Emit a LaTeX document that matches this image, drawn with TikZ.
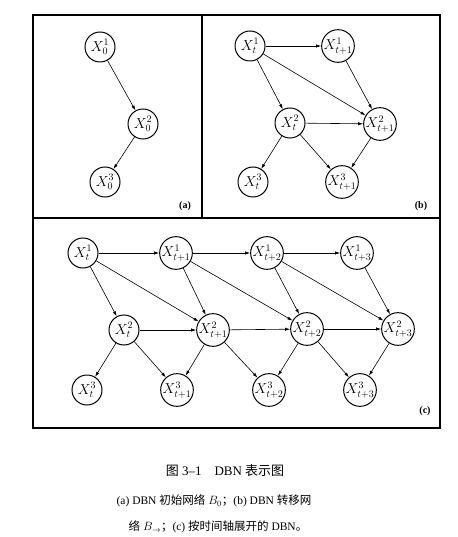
\documentclass[tikz,border=0pt]{standalone}
\usepackage{fontspec}
\setmainfont{Liberation Serif}
\newfontfamily\cjk{Noto Sans CJK SC}
\usetikzlibrary{arrows.meta}

\begin{document}
\begin{tikzpicture}[
    % one unit is one pixel of the reference, y grows downwards
    x=1pt,
    y=-1pt
]
    % --- Style Definitions ---
    \tikzstyle{var} = [draw, circle, line width=1pt, minimum size=30pt, inner sep=0pt, font=\fontsize{14}{16}\selectfont]
    \tikzstyle{edge} = [draw, line width=0.6pt, -{Latex[length=5pt,width=3.2pt]}]
    \tikzstyle{frame} = [draw, line width=1.1pt]
    \tikzstyle{tag} = [font=\bfseries\fontsize{10}{12}\selectfont]

    \useasboundingbox (0,0) rectangle (457,537);

    % --- Frames ---
    \draw[frame] (33,15) rectangle (440,428);
    \draw[frame] (33,218) -- (440,218);
    \draw[frame] (202,15) -- (202,218);

    % --- (a) initial network ---
    \node[var] (a1) at (100,47) {$X_0^1$};
    \node[var] (a2) at (143,124) {$X_0^2$};
    \node[var] (a3) at (105,182) {$X_0^3$};
    \draw[edge] (a1) -- (a2);
    \draw[edge] (a2) -- (a3);
    \node[tag] (taga) at (185,206) {(a)};

    % --- (b) transition network ---
    \node[var] (b1) at (250,46) {$X_t^1$};
    \node[var] (b2) at (338,46) {$X_{t+1}^1$};
    \node[var] (b3) at (290,123) {$X_t^2$};
    \node[var] (b4) at (380,124) {$X_{t+1}^2$};
    \node[var] (b5) at (253,182) {$X_t^3$};
    \node[var] (b6) at (342,182) {$X_{t+1}^3$};
    \draw[edge] (b1) -- (b2);
    \draw[edge] (b1) -- (b3);
    \draw[edge] (b1) -- (b4);
    \draw[edge] (b2) -- (b4);
    \draw[edge] (b3) -- (b4);
    \draw[edge] (b3) -- (b5);
    \draw[edge] (b3) -- (b6);
    \draw[edge] (b4) -- (b6);
    \node[tag] (tagb) at (421,206) {(b)};

    % --- (c) unrolled network ---
    \node[var] (c11) at (83,253) {$X_t^1$};
    \node[var] (c12) at (176,253) {$X_{t+1}^1$};
    \node[var] (c13) at (267,253) {$X_{t+2}^1$};
    \node[var] (c14) at (357,253) {$X_{t+3}^1$};
    \node[var] (c21) at (124,330) {$X_t^2$};
    \node[var] (c22) at (213,330) {$X_{t+1}^2$};
    \node[var] (c23) at (307,329) {$X_{t+2}^2$};
    \node[var] (c24) at (398,329) {$X_{t+3}^2$};
    \node[var] (c31) at (87,390) {$X_t^3$};
    \node[var] (c32) at (177,390) {$X_{t+1}^3$};
    \node[var] (c33) at (269,390) {$X_{t+2}^3$};
    \node[var] (c34) at (360,390) {$X_{t+3}^3$};

    % slice t -> t+1
    \draw[edge] (c11) -- (c12);
    \draw[edge] (c11) -- (c21);
    \draw[edge] (c11) -- (c22);
    \draw[edge] (c21) -- (c22);
    \draw[edge] (c21) -- (c31);
    \draw[edge] (c21) -- (c32);
    % slice t+1 -> t+2
    \draw[edge] (c12) -- (c13);
    \draw[edge] (c12) -- (c22);
    \draw[edge] (c12) -- (c23);
    \draw[edge] (c22) -- (c23);
    \draw[edge] (c22) -- (c32);
    \draw[edge] (c22) -- (c33);
    % slice t+2 -> t+3
    \draw[edge] (c13) -- (c14);
    \draw[edge] (c13) -- (c23);
    \draw[edge] (c13) -- (c24);
    \draw[edge] (c23) -- (c24);
    \draw[edge] (c23) -- (c33);
    \draw[edge] (c23) -- (c34);
    % slice t+3
    \draw[edge] (c14) -- (c24);
    \draw[edge] (c24) -- (c34);
    \node[tag] (tagc) at (425,411) {(c)};

    % --- Caption ---
    \node[font=\fontsize{13}{15}\selectfont] (cap1) at (225,471) {{\cjk 图} 3--1\quad DBN {\cjk 表示图}};
    \node[font=\fontsize{11.5}{13}\selectfont] (cap2) at (214,501) {(a) DBN {\cjk 初始网络} $B_0${\cjk ；}(b) DBN {\cjk 转移网}};
    \node[font=\fontsize{11.5}{13}\selectfont] (cap3) at (218,527) {{\cjk 络} $B_{\rightarrow}${\cjk ；}(c) {\cjk 按时间轴展开的} DBN{\cjk 。}};
\end{tikzpicture}
\end{document}
